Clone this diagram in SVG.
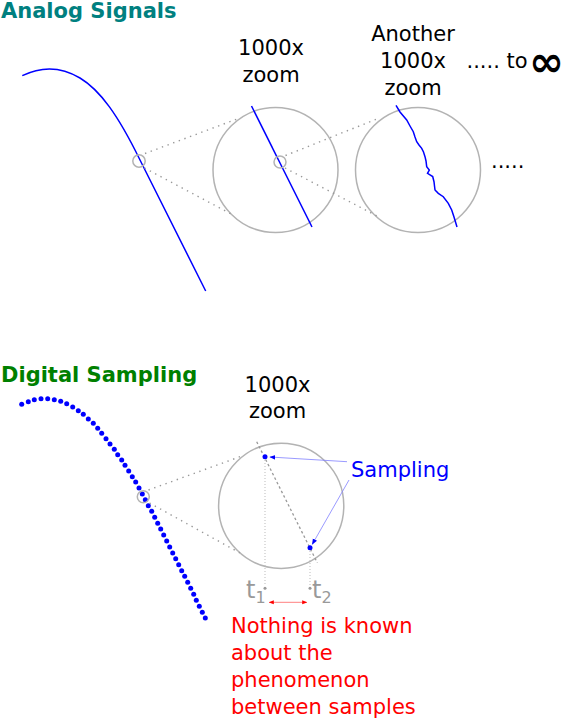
<svg xmlns="http://www.w3.org/2000/svg" width="569" height="720" viewBox="0 0 569 720">
<defs>
<style>
text{font-family:"DejaVu Sans","Liberation Sans",sans-serif;font-size:21px}
.title{font-weight:bold}
.inf{font-size:42px;font-weight:bold}
.tl{font-size:24px;fill:#999}
.ring{fill:none;stroke:#b3b3b3;stroke-width:1.5}
.sig{fill:none;stroke:#0000ff;stroke-width:1.5}
.dot{fill:#0000ff}
.zl{fill:none;stroke:#999;stroke-width:1.4;stroke-dasharray:1.4 4.6}
.vl{fill:none;stroke:#bbb;stroke-width:1;stroke-dasharray:1 2}
.gl{fill:none;stroke:#999;stroke-width:1.3;stroke-dasharray:2.5 2.5}
</style>
<marker id="ab" viewBox="0 0 10 10" refX="9" refY="5" markerWidth="6" markerHeight="6" orient="auto" markerUnits="userSpaceOnUse"><path d="M0,1 L10,5 L0,9 Z" fill="#0000ff"/></marker>
<marker id="ar" viewBox="0 0 10 10" refX="9" refY="5" markerWidth="5" markerHeight="5" orient="auto-start-reverse" markerUnits="userSpaceOnUse"><path d="M0,1 L10,5 L0,9 Z" fill="#ff0000"/></marker>
</defs>
<rect width="569" height="720" fill="#fff"/>

<g id="analog-title"><text class="title" x="1" y="17.5" fill="#008080">Analog Signals</text></g>

<g id="analog-curve">
<path class="sig" d="M22.3,75.7 C40,67 60,66 80,78 C100,90 118,115 140,160 L205.7,291"/>
<circle class="ring" cx="139" cy="161" r="6.2" stroke-width="1"/>
</g>

<g id="zoom1">
<text x="271" y="55" text-anchor="middle">1000x</text>
<text x="271" y="82" text-anchor="middle">zoom</text>
<circle class="ring" cx="275.5" cy="170" r="62.5"/>
<path class="sig" d="M251.5,106 L312,227"/>
<circle class="ring" cx="280" cy="162" r="6" stroke-width="1"/>
</g>

<g id="zoom2">
<text x="413" y="41" text-anchor="middle">Another</text>
<text x="413" y="68" text-anchor="middle">1000x</text>
<text x="413" y="95" text-anchor="middle">zoom</text>
<circle class="ring" cx="418" cy="170" r="62.5"/>
<path class="sig" d="M396,105.3 L400,112 L406.7,120 L410,126 L413.3,131.7 L415,137 L416.7,141.7 L419,145 L421.7,148.3 L423.5,152 L425,156.7 L426,161 L426.7,166.7 L429.3,170 L427.5,173.3 L432.7,176.5 L434,181.7 L434.5,186 L435,190 L438.3,193.3 L443.3,196.7 L448.3,203.3 L451.7,210 L454,217 L457,227"/>
</g>

<g id="infinity">
<text x="466.5" y="68">..... to</text>
<text class="inf" x="529" y="76">∞</text>
</g>

<g id="more"><text x="491" y="168">.....</text></g>

<g id="digital-title"><text class="title" x="1" y="382" fill="#008000">Digital Sampling</text></g>

<g id="digital-curve">
<g class="dot">
<circle cx="21.7" cy="404.3" r="2.5"/><circle cx="28.3" cy="401.7" r="2.5"/><circle cx="34.3" cy="399.7" r="2.5"/><circle cx="41" cy="398.7" r="2.5"/><circle cx="47.7" cy="398.7" r="2.5"/><circle cx="54.3" cy="399.7" r="2.5"/><circle cx="60.7" cy="401.3" r="2.5"/><circle cx="66.7" cy="403.7" r="2.5"/><circle cx="72.7" cy="407" r="2.5"/><circle cx="78.3" cy="410.7" r="2.5"/><circle cx="83.3" cy="414.3" r="2.5"/><circle cx="88.3" cy="419" r="2.5"/><circle cx="93.3" cy="423.3" r="2.5"/><circle cx="97.7" cy="428.3" r="2.5"/><circle cx="101.7" cy="433.3" r="2.5"/><circle cx="106" cy="438.7" r="2.5"/><circle cx="110" cy="444" r="2.5"/><circle cx="114.3" cy="449.3" r="2.5"/><circle cx="117.7" cy="454.7" r="2.5"/><circle cx="121.7" cy="460" r="2.5"/><circle cx="125" cy="465.3" r="2.5"/><circle cx="128.7" cy="471" r="2.5"/><circle cx="132.3" cy="476.7" r="2.5"/><circle cx="135.7" cy="482" r="2.5"/><circle cx="139" cy="488" r="2.5"/><circle cx="142.3" cy="494" r="2.5"/><circle cx="145.3" cy="499.7" r="2.5"/><circle cx="148.3" cy="505.7" r="2.5"/><circle cx="151.7" cy="511.3" r="2.5"/><circle cx="154.7" cy="517.3" r="2.5"/><circle cx="157.7" cy="523.3" r="2.5"/><circle cx="160.7" cy="529" r="2.5"/><circle cx="163.7" cy="535" r="2.5"/><circle cx="166.7" cy="541" r="2.5"/><circle cx="169.7" cy="547" r="2.5"/><circle cx="172.7" cy="553" r="2.5"/><circle cx="175.7" cy="558.7" r="2.5"/><circle cx="178.7" cy="564.7" r="2.5"/><circle cx="181.7" cy="570.7" r="2.5"/><circle cx="184.7" cy="576.3" r="2.5"/><circle cx="187.7" cy="582.3" r="2.5"/><circle cx="190.7" cy="588.3" r="2.5"/><circle cx="193.7" cy="594.3" r="2.5"/><circle cx="196.3" cy="600.3" r="2.5"/><circle cx="199.3" cy="606.3" r="2.5"/><circle cx="202.3" cy="612.3" r="2.5"/><circle cx="205.3" cy="618" r="2.5"/>
</g>
<circle class="ring" cx="143.3" cy="496.7" r="6" stroke-width="1"/>
</g>

<g id="zoom3">
<text x="277.5" y="391.7" text-anchor="middle">1000x</text>
<text x="277.5" y="418" text-anchor="middle">zoom</text>
<circle class="ring" cx="281.2" cy="505.8" r="62.6"/>
<path class="gl" d="M256.7,441.7 L317.3,562.7"/>
<path class="vl" d="M265,457 V586 M310,548 V586"/>
<circle class="dot" cx="265" cy="456.7" r="2.5"/>
<circle class="dot" cx="310" cy="547.7" r="2.5"/>
</g>

<g id="sampling-label"><text x="351" y="476.7" fill="#0000ff">Sampling</text></g>

<g id="time-labels" fill="#999">
<text class="tl" x="246" y="598">t<tspan font-size="16" dy="5">1</tspan></text>
<circle cx="265" cy="588.3" r="1.5"/>
<circle cx="310" cy="588.3" r="1.5"/>
<text class="tl" x="312" y="598">t<tspan font-size="16" dy="5">2</tspan></text>
</g>

<g id="note">
<text fill="#ff0000"><tspan x="231" y="633.3">Nothing is known</tspan><tspan x="231" y="660.3">about the</tspan><tspan x="231" y="687.3">phenomenon</tspan><tspan x="231" y="714.3">between samples</tspan></text>
</g>

<g id="connectors">
<path class="zl" d="M145,153.5 L237,119"/>
<path class="zl" d="M144.5,168 L233,215"/>
<path class="zl" d="M285.5,155.5 L378,118.5"/>
<path class="zl" d="M285,168 L377,216"/>
<path class="zl" d="M148.5,490 L240,456.7"/>
<path class="zl" d="M149.5,503 L240,553"/>
<path d="M347,461.7 L270,457" fill="none" stroke="#8080ff" stroke-width="0.8" marker-end="url(#ab)"/>
<path d="M349,480 L312.3,544.3" fill="none" stroke="#8080ff" stroke-width="0.8" marker-end="url(#ab)"/>
<path d="M269.3,602.3 L306.7,602.3" fill="none" stroke="#ff8080" stroke-width="1" marker-start="url(#ar)" marker-end="url(#ar)"/>
</g>
</svg>
